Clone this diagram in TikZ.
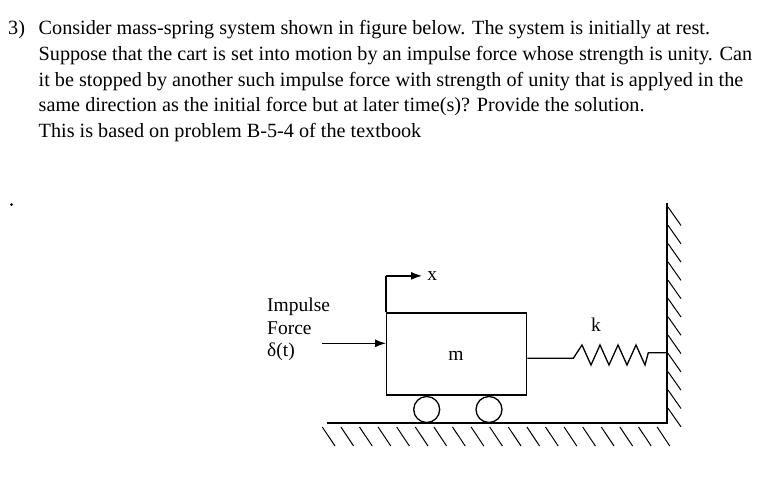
\documentclass[tikz,border=0pt]{standalone}
\usetikzlibrary{arrows.meta}
\usepackage{fontspec}
\setmainfont{Liberation Serif}
\begin{document}
\begin{tikzpicture}[x=1pt,y=-1pt,
  txt/.style={anchor=base west,inner sep=0pt,font=\fontsize{20.2}{24}\selectfont},
  lbl/.style={inner sep=0pt,font=\fontsize{19.5}{22}\selectfont},
  ln/.style={line width=1.3pt},
  arr/.style={line width=1.5pt,-{Latex[length=11pt,width=8pt]}}]
\useasboundingbox (0,0) rectangle (776,503);
\node[txt] (n3) at (8,35) {3)};
\node[txt] (t1) at (38.5,35) {Consider mass-spring system shown in figure below. The system is initially at rest.};
\node[txt] (t2) at (38.5,60.5) {Suppose that the cart is set into motion by an impulse force whose strength is unity. Can};
\node[txt] (t3) at (38.5,86) {it be stopped by another such impulse force with strength of unity that is applyed in the};
\node[txt] (t4) at (38.5,111.5) {same direction as the initial force but at later time(s)? Provide the solution.};
\node[txt] (t5) at (38.5,137) {This is based on problem B-5-4 of the textbook};
\fill (11.5,204.5) circle (1.5);
% cart
\node[draw,ln,minimum width=140pt,minimum height=82pt,inner sep=0pt] (box) at (456.7,354) {};
\node[lbl] (m) at (456,356) {m};
\node[draw,ln,circle,minimum size=26pt,inner sep=0pt] (w1) at (426.7,409.5) {};
\node[draw,ln,circle,minimum size=26pt,inner sep=0pt] (w2) at (489,409.5) {};
% ground and wall
\coordinate (g0) at (326.7,422.7);
\coordinate (corner) at (667.3,422.7);
\coordinate (wtop) at (667.3,203);
\draw[line width=2pt] (g0) -- (corner) -- (wtop);
\foreach \i in {0,...,18} \draw[line width=1pt] (322.3+18.6*\i,427) -- ++(12.7,19);
\foreach \i in {0,...,11} \draw[line width=1pt] (668,207+18.3*\i) -- ++(13,18.5);
% x arrow
\coordinate (xc) at (box.north west);
\draw[ln] (xc) -- ++(0,-36.5) coordinate (xt);
\draw[arr] (xt) -- ++(36,0) coordinate (xe);
\node[lbl,anchor=west] (xl) at ([xshift=5pt]xe) {x};
% impulse
\node[lbl,anchor=north west,align=left,font=\fontsize{19.5}{22.5}\selectfont] (imp) at (267,298) {Impulse\\Force\\δ(t)};
\coordinate (is) at (322,343.3);
\draw[arr] (is) -- (box.west |- is);
% spring
\coordinate (sp0) at (box.east |- 0,358.3);
\coordinate (wall) at (667.3,352.7);
\draw[ln] (sp0) -- (573.3,358.3) -- (582,345) -- (591,365) -- (600,345) -- (609,365) -- (618,345) -- (627,365) -- (636,345) -- (645,365) -- (648.3,352.7) -- (wall);
\node[lbl] (k) at (596,325) {k};
\end{tikzpicture}
\end{document}
